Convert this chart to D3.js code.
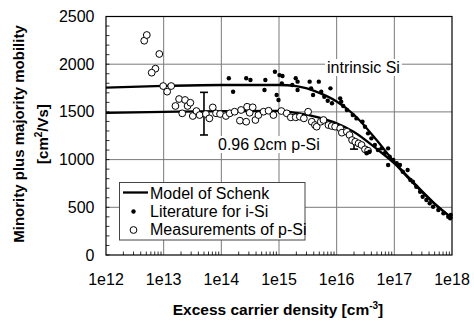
<!DOCTYPE html>
<html><head><meta charset="utf-8">
<script src="https://cdn.jsdelivr.net/npm/d3@7"></script>
<style>body{margin:0;background:#fff}svg{display:block}text{font-family:"Liberation Sans",Arial,sans-serif}</style>
</head><body>
<script>
// ---- data ----
const xTickValues = [1e12,1e13,1e14,1e15,1e16,1e17,1e18];
const xTickLabels = ["1e12","1e13","1e14","1e15","1e16","1e17","1e18"];
const yTickValues = [0,500,1000,1500,2000,2500];

const modelIntrinsicN  = [1e12,1e13,1e14,1e15,2e15,5e15,1e16,2e16,5e16,1e17,2e17,5e17,1e18];
const modelIntrinsicMu = [1755,1772,1782,1782,1770,1700,1610,1470,1200,975,780,540,385];
const modelPSiN  = [1e12,1e13,1e14,1e15,2e15,5e15,1e16,2e16,5e16,1e17,2e17,5e17,1e18];
const modelPSiMu = [1490,1500,1508,1510,1490,1440,1380,1290,1110,960,770,535,385];

const litN = [1.35e14,1.6e14,2.7e14,3.2e14,5.8e14,5.6e14,8.5e14,1.02e15,1.15e15,9.1e14,9.8e14,1.12e15,1.7e15,1.95e15,2.1e15,2.1e15,3.4e15,3.6e15,3.9e15,4.9e15,5.4e15,6.1e15,7e15,7.8e15,8.3e15,1.15e16,1.2e16,1.3e16,1.5e16,1.9e16,2.2e16,2.8e16,3.1e16,3.5e16,4.0e16,4.6e16,3.3e16,3.7e16,5.2e16,6e16,6.8e16,7.8e16,8.3e16,7.8e16,9.6e16,1.1e17,1.25e17,1.4e17,1.7e17,1.9e17,2.1e17,2.4e17,2.8e17,3.1e17,3.6e17,4.1e17,4.7e17,5.8e17,7.1e17,8.6e17,9.3e17,9.5e17];
const litMu = [1852,1712,1852,1834,1834,1729,1921,1886,1876,1677,1625,1799,1782,1852,1817,1729,1817,1747,1677,1817,1712,1659,1617,1747,1590,1642,1607,1562,1520,1467,1432,1397,1345,1275,1223,1153,1066,1083,1100,1118,1066,1118,1030,943,996,961,943,873,891,786,768,716,663,611,576,542,506,472,437,401,385,420];

const measN = [4.6e12,5.1e12,8.4e12,7.2e12,6.2e12,9.8e12,1.15e13,1.35e13,1.6e13,1.85e13,2.1e13,2.35e13,2.6e13,2.9e13,3.2e13,3.7e13,4.2e13,5.4e13,6.2e13,7.1e13,8.1e13,9.5e13,1.2e14,1.4e14,1.7e14,2.1e14,2.2e14,2.7e14,2.8e14,3.1e14,3.5e14,3.9e14,4.4e14,5.4e14,6.6e14,8.0e14,1.1e15,1.36e15,1.6e15,1.95e15,2.3e15,2.7e15,3.2e15,3.7e15,4.2e15,4.5e15,5.3e15,5.9e15,7.2e15,8.2e15,9.4e15,1.15e16,1.23e16,1.5e16,1.67e16,1.85e16,2.1e16,2.4e16,2.7e16,3.1e16,3.5e16];
const measMu = [2246,2306,2107,1953,1911,1771,1712,1771,1562,1635,1485,1625,1562,1596,1457,1509,1467,1478,1432,1547,1485,1478,1457,1485,1502,1408,1520,1397,1554,1491,1548,1415,1467,1502,1512,1467,1509,1485,1443,1443,1450,1432,1502,1397,1362,1345,1397,1415,1362,1352,1345,1328,1282,1292,1258,1205,1187,1170,1153,1108,1093];

const errN  = [5e13, 2.0e16];
const errLo = [1258, 1110];
const errHi = [1705, 1180];

const legendLabels = ["Model of Schenk","Literature for i-Si","Measurements of p-Si"];

// ---- chart ----
const W=474,H=323;
const svg=d3.select("body").append("svg").attr("width",W).attr("height",H);
const x=d3.scaleLog().domain([1e12,1e18]).range([106,452]);
const y=d3.scaleLinear().domain([0,2500]).range([255,16.5]);

// gridlines
const grid=svg.append("g").attr("stroke","#7a7a7a").attr("stroke-width",1);
xTickValues.slice(1,-1).forEach(v=>grid.append("line").attr("x1",x(v)).attr("x2",x(v)).attr("y1",y(0)).attr("y2",y(2500)));
yTickValues.slice(1,-1).forEach(v=>grid.append("line").attr("x1",x(1e12)).attr("x2",x(1e18)).attr("y1",y(v)).attr("y2",y(v)));

// minor ticks
const minor=svg.append("g").attr("stroke","#000").attr("stroke-width",0.8);
d3.range(0,2501,100).forEach(v=>minor.append("line").attr("x1",x(1e12)).attr("x2",x(1e12)+3.5).attr("y1",y(v)).attr("y2",y(v)));
for(let d=12; d<18; d++){ for(let m=2;m<=9;m++){ const v=m*Math.pow(10,d);
  minor.append("line").attr("x1",x(v)).attr("x2",x(v)).attr("y1",y(0)).attr("y2",y(0)-3.5);} }

// annotations with white background
function label(t,xx,yy){
  const g=svg.append("g");
  const tx=g.append("text").attr("x",xx).attr("y",yy).attr("font-size",16).text(t);
  const b=tx.node().getBBox();
  g.insert("rect","text").attr("x",b.x-2).attr("y",b.y).attr("width",b.width+4).attr("height",b.height).attr("fill","#fff");
}
label("intrinsic Si",327,73);

// model lines
const line=d3.line().x(d=>x(d[0])).y(d=>y(d[1])).curve(d3.curveMonotoneX);
svg.append("path").datum(modelIntrinsicN.map((n,i)=>[n,modelIntrinsicMu[i]])).attr("d",line).attr("fill","none").attr("stroke","#000").attr("stroke-width",2.3);
svg.append("path").datum(modelPSiN.map((n,i)=>[n,modelPSiMu[i]])).attr("d",line).attr("fill","none").attr("stroke","#000").attr("stroke-width",2.3);

// error bars
errN.forEach((n,i)=>{
  const g=svg.append("g").attr("stroke","#000").attr("stroke-width",1.6);
  g.append("line").attr("x1",x(n)).attr("x2",x(n)).attr("y1",y(errLo[i])).attr("y2",y(errHi[i]));
  [errLo[i],errHi[i]].forEach(v=>g.append("line").attr("x1",x(n)-4).attr("x2",x(n)+4).attr("y1",y(v)).attr("y2",y(v)));
});

// measurement circles
svg.append("g").selectAll("circle").data(measN.map((n,i)=>[n,measMu[i]])).join("circle")
  .attr("cx",d=>x(d[0])).attr("cy",d=>y(d[1])).attr("r",3.4).attr("fill","#fff").attr("stroke","#000").attr("stroke-width",1);
// literature dots
svg.append("g").selectAll("circle").data(litN.map((n,i)=>[n,litMu[i]])).join("circle")
  .attr("cx",d=>x(d[0])).attr("cy",d=>y(d[1])).attr("r",2.2).attr("fill","#000");

label("0.96 \u03A9cm p-Si",218,150);

// frame
svg.append("rect").attr("x",x(1e12)).attr("y",y(2500)).attr("width",x(1e18)-x(1e12)).attr("height",y(0)-y(2500)).attr("fill","none").attr("stroke","#000").attr("stroke-width",1.2);

// tick labels
svg.append("g").selectAll("text").data(yTickValues).join("text").attr("x",94.5).attr("y",d=>y(d)+5.5)
  .attr("text-anchor","end").attr("font-size",16).text(d=>d);
svg.append("g").selectAll("text").data(xTickValues).join("text").attr("x",d=>x(d)).attr("y",285)
  .attr("text-anchor","middle").attr("font-size",16).text((d,i)=>xTickLabels[i]);

// axis titles
const xt=svg.append("text").attr("x",278).attr("y",315).attr("text-anchor","middle").attr("font-size",15.5).attr("font-weight","bold");
xt.append("tspan").text("Excess carrier density [cm");
xt.append("tspan").attr("dy",-6).attr("font-size",10).text("-3");
xt.append("tspan").attr("dy",6).text("]");
const yt=svg.append("g").attr("transform","translate(24,134) rotate(-90)");
yt.append("text").attr("text-anchor","middle").attr("font-size",15).attr("font-weight","bold").text("Minority plus majority mobility");
const yt2=yt.append("text").attr("y",24).attr("text-anchor","middle").attr("font-size",15).attr("font-weight","bold");
yt2.append("tspan").text("[cm");
yt2.append("tspan").attr("dy",-6).attr("font-size",10).text("2");
yt2.append("tspan").attr("dy",6).text("/Vs]");

// legend
const lg=svg.append("g");
lg.append("rect").attr("x",119.5).attr("y",182.5).attr("width",185.5).attr("height",57.5).attr("fill","#fff").attr("stroke","#444").attr("stroke-width",1);
lg.append("line").attr("x1",123).attr("x2",148).attr("y1",192.5).attr("y2",192.5).attr("stroke","#000").attr("stroke-width",2.3);
lg.append("circle").attr("cx",133.5).attr("cy",211.5).attr("r",2.2).attr("fill","#000");
lg.append("circle").attr("cx",133.5).attr("cy",230).attr("r",3.4).attr("fill","#fff").attr("stroke","#000");
legendLabels.forEach((t,i)=>lg.append("text").attr("x",150).attr("y",199+i*18).attr("font-size",16).text(t));
</script>
</body></html>
